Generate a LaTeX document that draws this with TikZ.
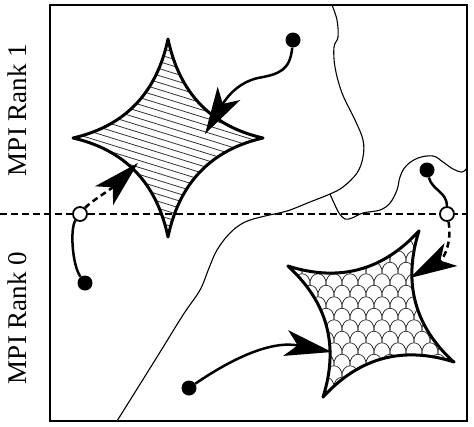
\documentclass[tikz,border=0pt]{standalone}
\usepackage{fontspec}
\setmainfont{Liberation Serif}
\usetikzlibrary{arrows.meta}

\tikzset{
  wall/.style={line width=2.8pt},
  front/.style={line width=1.1pt},
  starline/.style={line width=3pt, line join=round},
  track/.style={line width=2.5pt},
  ghosttrack/.style={line width=2.5pt, dash pattern=on 6pt off 4pt},
  bigarrow/.style={-{Stealth[length=47pt,width=26pt,inset=12pt]}},
  dot/.style={circle, fill=black, inner sep=0pt, minimum size=15pt},
  ghost/.style={circle, draw=black, fill=white, line width=1.8pt, inner sep=0pt, minimum size=14pt},
  rank/.style={rotate=90, font=\fontsize{27}{32}\selectfont},
}
% unit four-pointed star
\newcommand\starpath{(0,1) .. controls (-0.12,0.453) and (-0.453,0.12) .. (-1,0)
  .. controls (-0.453,-0.12) and (-0.12,-0.453) .. (0,-1)
  .. controls (0.12,-0.453) and (0.453,-0.12) .. (1,0)
  .. controls (0.453,0.12) and (0.12,0.453) .. cycle}

\begin{document}
\begin{tikzpicture}[x=1pt,y=-1pt]
  \useasboundingbox (0,0) rectangle (474,426);

  % rank labels
  \node[rank] (rank1) at (17,110) {MPI Rank 1};
  \node[rank] (rank0) at (17,318) {MPI Rank 0};

  % domain boundaries
  \coordinate (fork) at (330,194);
  \draw[front] plot[smooth,tension=0.6] coordinates {(332,5) (337,20) (338,37) (334,47)
    (335,67) (342,93) (355,120) (363,140) (363,157) (357,173) (343,187) (fork)
    (310,202) (287,211) (265,216) (245,222) (230,233) (217,250) (209,268) (200,290)
    (183,315) (157,357) (117,421)};
  \draw[front] plot[smooth,tension=0.6] coordinates {(fork) (334,203) (339,213) (345,219)
    (352,218) (363,213) (380,210) (390,203) (397,190) (400,177) (406,166) (418,158)
    (433,156) (443,162) (453,169) (462,172) (467,168)};

  % hatched star
  \begin{scope}
    \clip[shift={(168,138)}, xscale=95, yscale=99] \starpath;
    \foreach \k in {0,...,40}
      \draw[line width=0.8pt, black!80] (60,-32+7*\k) -- (280,36+7*\k);
  \end{scope}
  \draw[starline, shift={(168,138)}, xscale=95, yscale=99] \starpath;

  % scaled star
  \begin{scope}
    \clip[shift={(371,314)}, rotate=60, scale=96] \starpath;
    \foreach \j in {0,...,18} {
      \pgfmathsetmacro\off{8*mod(\j,2)}
      \foreach \i in {0,...,12}
        \draw[line width=0.7pt, black!85] (262+\off+16*\i, 216+11.5*\j)
          .. controls +(-1,-15) and +(1,-15) .. +(16,0);
    }
  \end{scope}
  \draw[starline, shift={(371,314)}, rotate=60, scale=96] \starpath;

  % rank boundary
  \draw[line width=2.6pt, dash pattern=on 6.5pt off 4.5pt] (0,214) -- (467,214);

  % particles
  \node[dot] (p1) at (293,40) {};
  \node[dot] (p2) at (85,283) {};
  \node[dot] (p3) at (427,170) {};
  \node[dot] (p4) at (189,388) {};
  \node[ghost] (g2) at (80,214) {};
  \node[ghost] (g3) at (447,214) {};
  \coordinate (t1) at (205,134);
  \coordinate (t2) at (138,163);
  \coordinate (t3) at (410,278);
  \coordinate (t4) at (332,352);

  \draw[track, bigarrow] (p1) .. controls (290,70) and (280,74) .. (258,78)
    .. controls (240,82) and (228,95) .. (t1);
  \draw[track] (p2) .. controls (72,265) and (70,228) .. (g2);
  \draw[ghosttrack, bigarrow] (g2) .. controls (90,202) and (110,190) .. (t2);
  \draw[track] (p3) .. controls (432,190) and (447,192) .. (g3);
  \draw[ghosttrack, bigarrow] (g3) .. controls (452,240) and (445,258) .. (t3);
  \draw[track, bigarrow] (p4) .. controls (230,360) and (270,340) .. (t4);

  % frame
  \draw[wall] (50,5) rectangle (467,421);
\end{tikzpicture}
\end{document}
